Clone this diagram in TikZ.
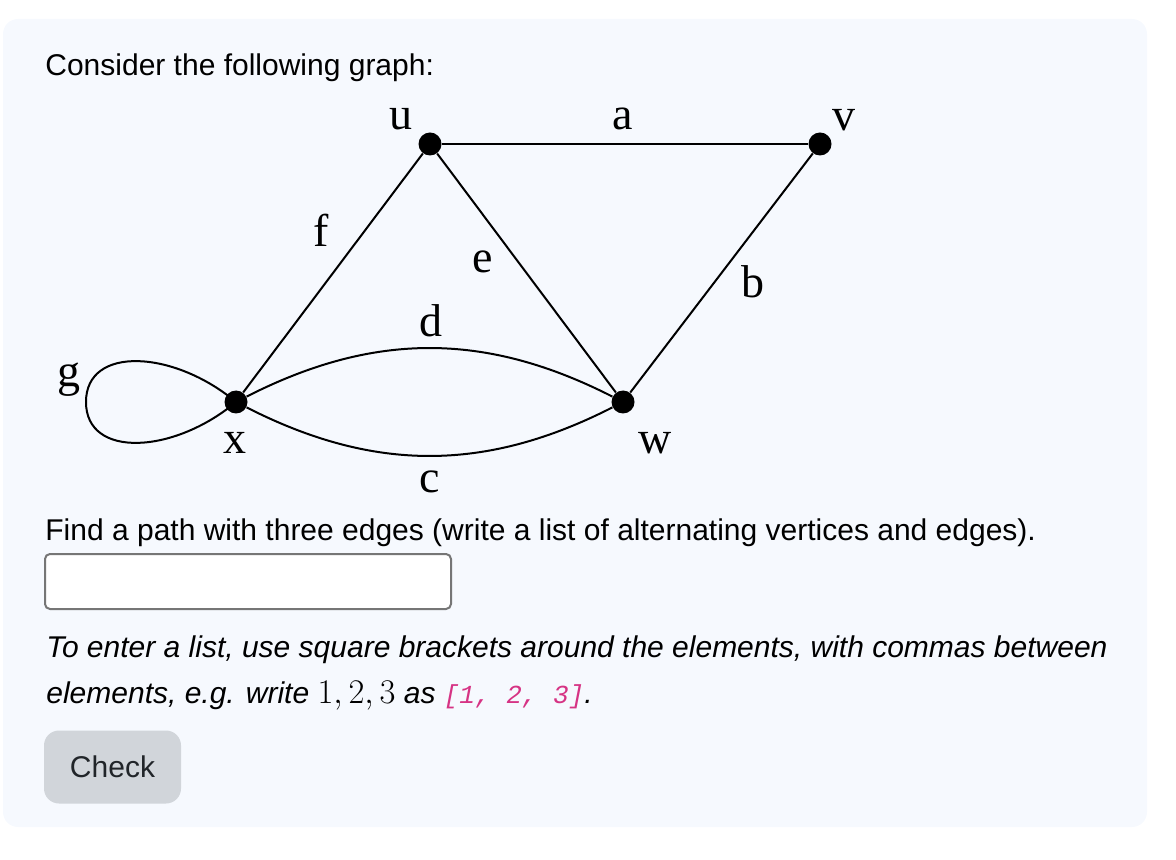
\documentclass[tikz,border=0pt]{standalone}
\usepackage{fontspec}
\setsansfont{Liberation Sans}
\setmonofont{Liberation Mono}
\newfontfamily\vertexfont{Liberation Serif}
\definecolor{panelbg}{RGB}{246,249,254}
\definecolor{boxline}{RGB}{118,118,118}
\definecolor{btnfill}{RGB}{209,213,218}
\definecolor{btntext}{RGB}{33,37,41}
\definecolor{codepink}{RGB}{214,51,132}

\begin{document}
\begin{tikzpicture}[
  x=0.5pt, y=0.5pt,
  vertex/.style={circle, fill=black, inner sep=0pt, minimum size=11.5pt},
  vlabel/.style={anchor=base, inner sep=0pt, font=\vertexfont\fontsize{23}{23}\selectfont},
  edge/.style={line width=1pt},
  prose/.style={anchor=base west, inner sep=0pt, font=\sffamily\fontsize{15}{18}\selectfont},
  hint/.style={prose, font=\sffamily\itshape\fontsize{15}{18}\selectfont}
]
  \useasboundingbox (0,0) rectangle (1176,-860);
  % Panel
  \fill[panelbg, rounded corners=7.5pt] (3,-19) rectangle (1147,-827);

  \node[prose] (intro) at (45,-76) {Consider the following graph:};

  % Vertices
  \node[vertex] (u) at (430,-144) {};
  \node[vertex] (v) at (820,-144) {};
  \node[vertex] (x) at (236,-402) {};
  \node[vertex] (w) at (623,-402) {};
  \coordinate (gtip) at (86,-402);

  % Edges
  \draw[edge] (u) -- (v);
  \draw[edge] (v) -- (w);
  \draw[edge] (u) -- (w);
  \draw[edge] (x) -- (u);
  \draw[edge] (x) to[bend left=27] (w);
  \draw[edge] (x) to[bend right=27] (w);
  \draw[edge] (x.center) .. controls +(-62,52) and +(0,57) .. (gtip)
    .. controls +(0,-57) and +(-62,-52) .. (x.center);

  % Labels
  \node[vlabel] (lu) at (401,-130) {u};
  \node[vlabel] (lv) at (844,-131) {v};
  \node[vlabel] (lx) at (235,-453) {x};
  \node[vlabel] (lw) at (655,-453) {w};
  \node[vlabel] (la) at (623,-130) {a};
  \node[vlabel] (lb) at (753,-298) {b};
  \node[vlabel] (lc) at (430,-492) {c};
  \node[vlabel] (ld) at (431,-337) {d};
  \node[vlabel] (le) at (483,-273) {e};
  \node[vlabel] (lf) at (321,-247) {f};
  \node[vlabel] (lg) at (69,-387) {g};

  % Question
  \node[prose] (task) at (45,-540) {Find a path with three edges (write a list of alternating vertices and edges).};
  \draw[boxline, fill=white, line width=1pt, rounded corners=2.5pt] (45,-554) rectangle (451,-609);
  \node[hint] (hint1) at (46,-657) {To enter a list, use square brackets around the elements, with commas between};
  \node[hint] (hint2) at (46,-703) {elements, e.g. write {\fontsize{17}{20}\selectfont$1, 2, 3$} as
    {\color{codepink}\ttfamily\itshape\fontsize{13}{16}\selectfont [1, 2, 3]}.};

  % Button
  \node[fill=btnfill, rounded corners=7.5pt, minimum width=68.5pt, minimum height=36.5pt,
    inner sep=0pt, text=btntext, font=\sffamily\fontsize{15}{18}\selectfont] (check) at (112.5,-767) {Check};
\end{tikzpicture}
\end{document}
